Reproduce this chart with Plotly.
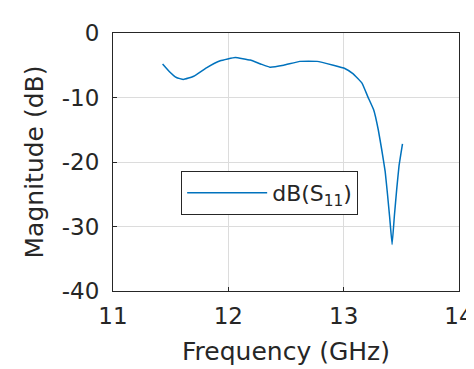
import plotly.graph_objects as go

freq_ghz = [11.43, 11.49, 11.55, 11.61, 11.70, 11.81, 11.93, 12.06, 12.19, 12.28, 12.36,
            12.48, 12.62, 12.77, 12.91, 13.01, 13.08, 13.16, 13.21, 13.26, 13.30, 13.33,
            13.36, 13.38, 13.40, 13.42, 13.44, 13.46, 13.48, 13.51]
s11_db = [-4.8, -6.0, -6.9, -7.2, -6.7, -5.4, -4.3, -3.8, -4.2, -4.8, -5.3,
          -5.0, -4.4, -4.4, -5.0, -5.5, -6.3, -7.8, -9.9, -11.9, -15.0, -18.1,
          -21.5, -25.0, -28.8, -32.8, -28.3, -24.2, -20.6, -17.2]

x_ticks = [11, 12, 13, 14]
y_ticks = [0, -10, -20, -30, -40]

font_family = "DejaVu Sans"
txt = "#262626"

fig = go.Figure()
fig.add_trace(go.Scatter(
    x=freq_ghz, y=s11_db, mode="lines",
    line=dict(color="#0072BD", width=1.5, shape="spline", smoothing=0.3),
    name="dB(S<sub>11</sub>)",
))

fig.update_layout(
    width=466, height=361,
    margin=dict(l=105, r=15, t=25, b=78),
    paper_bgcolor="white", plot_bgcolor="white",
    font=dict(family=font_family, color=txt, size=23),
    showlegend=True,
    legend=dict(
        x=0.197, y=0.465, xanchor="left", yanchor="top",
        bgcolor="white", bordercolor="#262626", borderwidth=1,
        font=dict(size=22, color=txt), itemwidth=80,
    ),
    xaxis=dict(
        range=[11, 14], tickvals=x_ticks, ticktext=[str(v) for v in x_ticks],
        showgrid=True, gridcolor="#dcdcdc", gridwidth=1,
        showline=True, linecolor="#262626", linewidth=1, mirror=True,
        ticks="inside", ticklen=4, tickcolor="#262626",
        zeroline=False, ticklabelstandoff=4, automargin=False,
        title=dict(text="Frequency (GHz)", font=dict(size=25), standoff=14),
    ),
    yaxis=dict(
        range=[-40, 0], tickvals=y_ticks, ticktext=[str(v) for v in y_ticks],
        showgrid=True, gridcolor="#dcdcdc", gridwidth=1,
        showline=True, linecolor="#262626", linewidth=1, mirror=True,
        ticks="inside", ticklen=4, tickcolor="#262626",
        zeroline=False, ticklabelstandoff=8, automargin=False,
        title=dict(text="Magnitude (dB)", font=dict(size=25), standoff=11),
    ),
)

fig.write_html("out.html")
